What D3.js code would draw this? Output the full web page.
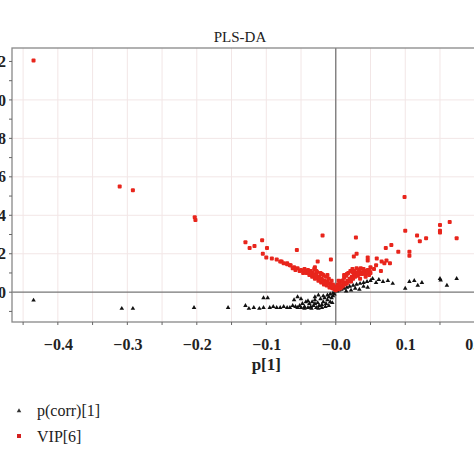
<!DOCTYPE html>
<html><head><meta charset="utf-8">
<script src="https://cdn.jsdelivr.net/npm/d3@7"></script>
<style>body{margin:0;background:#fff}svg{display:block}</style>
</head><body>
<svg id="c" width="474" height="474"></svg>
<script>
const title = "PLS-DA";
const xLabel = "p[1]";
const xTicks = [-0.4,-0.3,-0.2,-0.1,-0.0,0.1,0.2];
const yTicks = [0,2,4,6,8,10,12];
const legendLabels = ["p(corr)[1]","VIP[6]"];
// VIP[6] series (red)
const vipX = [-0.435,-0.311,-0.292,-0.203,-0.202,-0.13,-0.106,-0.117,-0.124,-0.099,-0.105,-0.1,-0.092,-0.085,-0.078,-0.07,-0.066,-0.019,-0.056,-0.026,-0.007,0.029,0.03,0.026,0.099,0.1,0.117,0.121,0.13,0.15,0.15,0.15,0.164,0.174,0.106,0.106,0.072,0.08,0.09,0.046,0.046,0.059,0.066,0.073,0.07,0.078,0.05,0.058,0.065,0.055,-0.045,-0.042,-0.04,-0.038,-0.036,-0.034,-0.033,-0.031,-0.03,-0.028,-0.027,-0.025,-0.024,-0.022,-0.021,-0.02,-0.018,-0.017,-0.016,-0.014,-0.013,-0.012,-0.01,-0.009,-0.008,-0.006,-0.005,-0.004,-0.002,-0.001,0,0.002,0.003,0.005,0.006,0.008,0.009,0.011,0.012,0.014,0.015,0.017,0.018,0.02,0.021,0.023,0.024,0.026,0.027,0.029,0.03,0.032,0.033,0.035,0.036,0.038,0.04,0.042,0.044,0.046,0.048,0.05,-0.05,-0.055,-0.06,-0.065,-0.07,-0.075,-0.08,-0.047,-0.052,-0.058,-0.062,0.004,0.012,0.022,0.035,0.043,-0.012,-0.03,
  -0.043,-0.039,-0.035,-0.032,-0.029,-0.026,-0.023,-0.019,-0.015,-0.011,-0.007,-0.003,0.001,0.004,0.007,0.01,0.013,0.016,0.019,0.022,0.025,0.028,0.031,0.034,0.037,0.041,0.045,0.049,0.016,0.024,0.032,0.04,0.01,-0.02,-0.028,-0.036];
const vipY = [12.05,5.5,5.3,3.9,3.75,2.6,2.7,2.4,2.3,2.3,2.0,1.8,1.75,1.7,1.6,1.5,1.4,2.95,2.2,1.6,1.7,2.85,2.0,1.85,4.95,3.2,2.95,2.65,2.8,3.5,3.2,3.1,3.65,2.8,2.1,1.9,2.3,2.45,2.1,1.8,1.65,1.75,1.6,1.65,1.5,1.5,1.3,1.4,1.1,1.2,1.2,1.0,1.15,0.9,1.1,0.8,1.0,1.2,0.7,0.9,1.05,0.6,0.8,1.0,0.5,0.7,0.9,0.4,0.6,0.8,0.35,0.55,0.7,0.25,0.45,0.6,0.2,0.4,0.15,0.3,0.1,0.25,0.4,0.3,0.5,0.35,0.6,0.45,0.75,0.5,0.85,0.6,1.0,0.7,1.1,0.8,1.2,0.9,1.1,1.0,1.25,0.9,1.15,1.05,1.25,0.95,1.2,1.1,1.0,1.15,0.9,1.0,1.15,1.25,1.3,1.4,1.45,1.5,1.6,1.0,1.1,1.15,1.25,0.6,0.9,0.55,0.7,0.8,0.9,1.3,
  1.1,1.05,0.95,0.9,0.85,0.75,0.7,0.6,0.5,0.45,0.35,0.3,0.2,0.15,0.2,0.3,0.4,0.45,0.55,0.65,0.7,0.8,0.85,0.95,1.0,1.05,1.05,1.1,0.95,1.05,1.0,1.0,0.6,0.95,1.1,1.0];
// p(corr)[1] series (black)
const pcX = [-0.435,-0.308,-0.292,-0.204,-0.155,-0.13,-0.125,-0.118,-0.11,-0.104,-0.098,-0.104,-0.095,-0.09,-0.085,-0.08,-0.075,-0.07,-0.066,-0.062,-0.058,-0.055,-0.052,-0.05,-0.048,-0.045,-0.043,-0.04,-0.038,-0.036,-0.034,-0.032,-0.03,-0.028,-0.026,-0.024,-0.022,-0.02,-0.018,-0.016,-0.014,-0.012,-0.01,-0.008,-0.006,-0.004,-0.002,-0.045,-0.04,-0.035,-0.03,-0.025,-0.02,-0.015,-0.01,-0.005,-0.06,-0.055,-0.05,-0.03,-0.025,-0.018,-0.012,-0.008,-0.004,0.002,0.005,0.008,0.012,0.016,0.02,0.025,0.03,0.035,0.04,0.045,0.05,0.053,0.058,0.062,0.068,0.075,0.082,0.1,0.106,0.113,0.118,0.124,0.15,0.151,0.16,0.174,0.015,0.022,0.028,0.034,0.04,0.046];
const pcY = [-0.42,-0.85,-0.85,-0.8,-0.8,-0.7,-0.85,-0.8,-0.85,-0.3,-0.3,-0.8,-0.8,-0.75,-0.8,-0.8,-0.75,-0.8,-0.8,-0.7,-0.75,-0.8,-0.7,-0.8,-0.6,-0.75,-0.5,-0.8,-0.6,-0.75,-0.5,-0.7,-0.4,-0.8,-0.55,-0.7,-0.35,-0.65,-0.5,-0.3,-0.6,-0.4,-0.25,-0.5,-0.3,-0.2,-0.1,-0.85,-0.45,-0.85,-0.6,-0.85,-0.8,-0.75,-0.7,-0.55,-0.4,-0.25,-0.35,-0.25,-0.15,-0.2,-0.15,-0.1,-0.05,0.05,0.1,0.15,0.2,0.25,0.3,0.35,0.4,0.45,0.5,0.55,0.6,0.7,0.5,0.65,0.55,0.6,0.45,0.2,0.55,0.6,0.35,0.5,0.7,0.62,0.35,0.7,0.05,0.1,0.2,0.15,0.3,0.25];

const svg = d3.select("#c");
const L=12, R=490, T=48, B=322;
const x = d3.scaleLinear().domain([-0.466,0.222]).range([L,R]);
const y = d3.scaleLinear().domain([-1.55,12.7]).range([B,T]);

svg.append("text").attr("x",240).attr("y",42).attr("text-anchor","middle")
  .attr("font-family","Liberation Serif").attr("font-size",15).attr("fill","#222").text(title);

const g = svg.append("g");
const gx = d3.range(-0.45,0.23,0.05);
g.selectAll(".gx").data(gx).join("line").attr("x1",d=>x(d)).attr("x2",d=>x(d)).attr("y1",T).attr("y2",B).attr("stroke","#f2e6e6");
g.selectAll(".gy").data([2,4,6,8,10]).join("line").attr("x1",L).attr("x2",R).attr("y1",d=>y(d)).attr("y2",d=>y(d)).attr("stroke","#f2e6e6");
g.append("line").attr("x1",L).attr("x2",R).attr("y1",y(0)).attr("y2",y(0)).attr("stroke","#777").attr("stroke-width",1.3);
g.append("line").attr("x1",x(0)).attr("x2",x(0)).attr("y1",T).attr("y2",B).attr("stroke","#777").attr("stroke-width",1.3);
g.append("rect").attr("x",L).attr("y",T).attr("width",R-L).attr("height",B-T).attr("fill","none").attr("stroke","#888").attr("stroke-width",1.3);

const xa = svg.append("g").attr("transform",`translate(0,${B})`)
  .call(d3.axisBottom(x).tickValues(xTicks).tickSize(0).tickPadding(17).tickFormat(d=>d===0?"\u22120.0":d3.format(".1f")(d).replace("-","\u2212")));
xa.select(".domain").remove();
xa.selectAll("text").attr("font-family","Liberation Serif").attr("font-weight","bold").attr("font-size",16).attr("fill","#222");
svg.append("g").selectAll("line").data(d3.range(-0.45,0.23,0.05)).join("line")
  .attr("x1",d=>x(d)).attr("x2",d=>x(d)).attr("y1",B).attr("y2",B+3).attr("stroke","#666");
const ya = svg.append("g").attr("transform",`translate(${L},0)`)
  .call(d3.axisLeft(y).tickValues(yTicks).tickSize(0).tickPadding(6));
ya.select(".domain").remove();
ya.selectAll("text").attr("font-family","Liberation Serif").attr("font-weight","bold").attr("font-size",16).attr("fill","#222");
svg.append("g").selectAll("line").data(d3.range(-1,13,1)).join("line")
  .attr("x1",L-3).attr("x2",L).attr("y1",d=>y(d)).attr("y2",d=>y(d)).attr("stroke","#666");

svg.append("text").attr("x",x(-0.1)).attr("y",370).attr("text-anchor","middle")
  .attr("font-family","Liberation Serif").attr("font-weight","bold").attr("font-size",17).attr("fill","#222").text(xLabel);

const tri = d3.symbol().type(d3.symbolTriangle).size(9);
svg.append("g").selectAll("path").data(d3.zip(pcX,pcY)).join("path")
  .attr("d",tri).attr("transform",d=>`translate(${x(d[0])},${y(d[1])})`).attr("fill","#111");
svg.append("g").selectAll("rect").data(d3.zip(vipX,vipY)).join("rect")
  .attr("x",d=>x(d[0])-2).attr("y",d=>y(d[1])-2).attr("width",4).attr("height",4).attr("rx",1).attr("fill","#e8251c");

const lg = svg.append("g");
lg.append("path").attr("d",tri).attr("transform","translate(19,411)").attr("fill","#333");
lg.append("rect").attr("x",17).attr("y",434).attr("width",4).attr("height",4).attr("fill","#d42020");
lg.selectAll("text").data(legendLabels).join("text").attr("x",37).attr("y",(d,i)=>416+i*26)
  .attr("font-family","Liberation Serif").attr("font-size",16).attr("fill","#222").text(d=>d);
</script>
</body></html>
